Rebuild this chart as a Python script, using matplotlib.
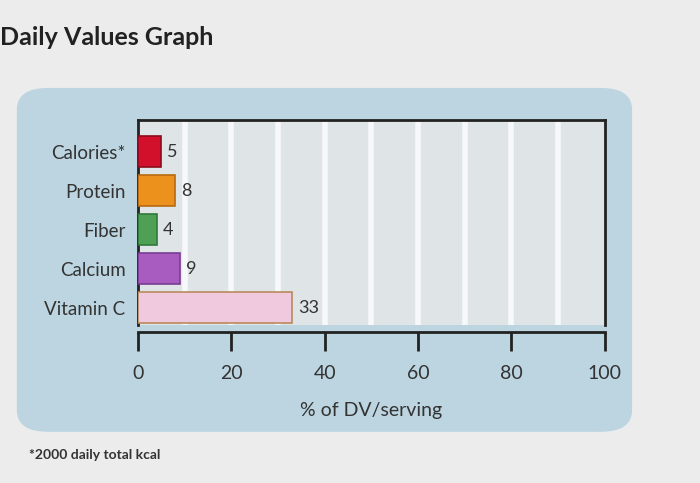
import matplotlib
matplotlib.use("Agg")
import matplotlib.pyplot as plt
from matplotlib.patches import FancyBboxPatch

plt.rcParams['font.family'] = ['Lato', 'DejaVu Sans']

nutrients = ['Calories*', 'Protein', 'Fiber', 'Calcium', 'Vitamin C']
values = [5, 8, 4, 9, 33]
colors = ['#d3102c', '#ec921c', '#4f9f55', '#a85cc0', '#f1c9de']
edges = ['#8e0a1c', '#b86a10', '#2f7a3a', '#7a3c94', '#b98a5c']
xticks = [0, 20, 40, 60, 80, 100]

fig = plt.figure(figsize=(7, 4.83), dpi=100)
fig.patch.set_facecolor('#ececec')

# blue panel behind the chart
panel = FancyBboxPatch((0.024, 0.106), 0.879, 0.712,
                       boxstyle='round,pad=0.0,rounding_size=0.045',
                       transform=fig.transFigure, facecolor='#bcd5e1',
                       edgecolor='none', zorder=-5)
fig.patches.append(panel)

ax = fig.add_axes([0.197, 0.327, 0.667, 0.425])
ax.set_zorder(2)
ax.set_facecolor('#dfe4e7')

y = list(range(len(nutrients)))
ax.barh(y, values, height=0.8, color=colors, edgecolor=edges, linewidth=1.2, zorder=3)
for yi, v in zip(y, values):
    ax.text(v + 1.3, yi, str(v), va='center', ha='left', fontsize=13, color='#333333', zorder=4)

# white stripes every 10
for gx in range(10, 100, 10):
    ax.axvline(gx, color='#f7f8f9', linewidth=4, zorder=1)

ax.set_xlim(0, 100)
ax.set_ylim(4.44, -0.82)
ax.set_yticks(y)
ax.set_yticklabels(nutrients)
ax.tick_params(axis='y', length=0, pad=9, labelsize=13.5, labelcolor='#333333')

ax.set_xticks(xticks)
ax.set_xticklabels([str(t) for t in xticks])
ax.tick_params(axis='x', length=14, width=2, direction='out', pad=10, color='#222222',
               labelsize=14, labelcolor='#333333')
ax.spines['bottom'].set_position(('outward', 5))
for s in ax.spines.values():
    s.set_color('#222222')
    s.set_linewidth(2)

ax.set_xlabel('% of DV/serving', fontsize=14, color='#333333', labelpad=14)

fig.text(0.0, 0.922, 'Daily Values Graph', fontsize=18, fontweight='bold', color='#222222', va='center')
fig.text(0.042, 0.058, '*2000 daily total kcal', fontsize=10, fontweight='bold', color='#333333', va='center')

fig.savefig('out.png', dpi=100, facecolor=fig.get_facecolor())
